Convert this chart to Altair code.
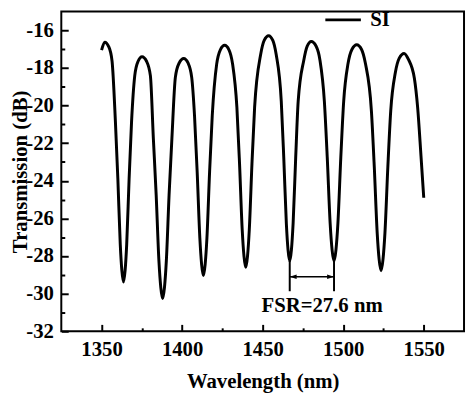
import altair as alt
import pandas as pd

# ---- data ----
wavelength = [
    1350.0, 1352.0, 1354.5, 1356.5, 1358.6, 1360.1, 1361.6, 1362.6, 1363.6, 1364.6, 1365.6, 1367.1, 1368.6, 1370.6, 1372.6, 1375.1,
    1378.0, 1380.3, 1382.15, 1383.9, 1385.6, 1386.75, 1387.9, 1389.05, 1390.2, 1391.9, 1393.65, 1395.8, 1398.1, 1401.0,
    1403.75, 1405.95, 1407.7, 1409.35, 1411.0, 1412.1, 1413.2, 1414.3, 1415.4, 1417.05, 1418.7, 1421.45, 1423.65, 1426.4,
    1429.15, 1431.35, 1434.0, 1435.65, 1437.3, 1438.4, 1439.5, 1440.6, 1441.7, 1443.35, 1445.0, 1448.75, 1450.95, 1453.7,
    1456.3, 1458.4, 1461.55, 1463.1, 1464.7, 1465.75, 1466.8, 1467.85, 1468.9, 1470.5, 1472.05, 1475.5, 1477.6, 1480.2,
    1483.2, 1485.6, 1488.3, 1490.1, 1491.9, 1493.1, 1494.3, 1495.5, 1496.7, 1498.5, 1500.3, 1503.0, 1505.4, 1508.4,
    1511.4, 1513.8, 1517.5, 1519.3, 1521.1, 1522.3, 1523.5, 1524.7, 1525.9, 1527.7, 1529.5, 1532.4, 1534.8, 1537.8,
    1540.5, 1544.2, 1546.2, 1548.3, 1550.0,
]
transmission = [
    -17.05, -16.63, -16.88, -17.63, -20.88, -23.88, -27.38, -28.78, -29.38, -28.78, -27.38, -23.88, -20.88, -18.41, -17.66, -17.41,
    -17.66, -18.41, -21.76, -24.76, -28.26, -29.66, -30.26, -29.66, -28.26, -24.76, -21.76, -18.5, -17.75, -17.5,
    -17.75, -18.5, -20.54, -23.54, -27.04, -28.44, -29.04, -28.44, -27.04, -23.54, -20.54, -17.8, -17.05, -16.8,
    -17.05, -17.8, -20.1, -23.1, -26.6, -28.0, -28.6, -28.0, -26.6, -23.1, -20.1, -17.29, -16.54, -16.29,
    -16.54, -17.29, -19.77, -22.77, -26.27, -27.67, -28.27, -27.67, -26.27, -22.77, -19.77, -17.6, -16.85, -16.6,
    -16.85, -17.6, -19.77, -22.77, -26.27, -27.67, -28.27, -27.67, -26.27, -22.77, -19.77, -17.77, -17.02, -16.77,
    -17.02, -17.77, -20.28, -23.28, -26.78, -28.18, -28.78, -28.18, -26.78, -23.28, -20.28, -18.23, -17.48, -17.23,
    -17.55, -18.56, -20.1, -22.7, -24.9,
]
series_name = "SI"

x_major = [1350, 1400, 1450, 1500, 1550]
x_minor = [1375, 1425, 1475, 1525]
y_major = [-32, -30, -28, -26, -24, -22, -20, -18, -16]
y_minor = [-31, -29, -27, -25, -23, -21, -19, -17]
x_domain = [1325, 1575]
y_domain = [-32, -15]

fsr_x = [1466.8, 1494.3]
fsr_top = [-28.27, -28.27]
fsr_bottom = [-29.87, -29.87]
fsr_arrow_y = -29.1
fsr_label = "FSR=27.6 nm"
fsr_label_x = 1486.9
fsr_label_y = -30.98

W, H = 408, 324
FONT = "Liberation Serif"
FS = 21

df = pd.DataFrame({"wl": wavelength, "t": transmission, "series": series_name})
fsr_df = pd.DataFrame({"x": fsr_x, "y": fsr_top, "y2": fsr_bottom})
arrow_df = pd.DataFrame({"x": [fsr_x[0]], "x2": [fsr_x[1]], "y": [fsr_arrow_y]})
left_head = pd.DataFrame({"x": [fsr_x[0]], "y": [fsr_arrow_y]})
right_head = pd.DataFrame({"x": [fsr_x[1]], "y": [fsr_arrow_y]})
label_df = pd.DataFrame({"x": [fsr_label_x], "y": [fsr_label_y], "text": [fsr_label]})

xs = alt.Scale(domain=x_domain, nice=False, zero=False)
ys = alt.Scale(domain=y_domain, nice=False, zero=False)

line = alt.Chart(df).mark_line(interpolate="monotone", strokeWidth=3).encode(
    x=alt.X("wl:Q", scale=xs, axis=alt.Axis(
        values=x_major, ticks=False, domain=False, grid=False,
        labelExpr="'' + datum.value", labelPadding=8,
        title="Wavelength (nm)", titleY=57, titleBaseline="alphabetic")),
    y=alt.Y("t:Q", scale=ys, axis=alt.Axis(
        values=y_major, ticks=False, domain=False, grid=False,
        labelExpr="'' + datum.value", labelPadding=8,
        title="Transmission (dB)", titleX=-35, titleBaseline="alphabetic")),
    color=alt.Color("series:N", scale=alt.Scale(range=["black"]), legend=alt.Legend(
        title=None, orient="none", legendX=266, legendY=-11, padding=0,
        symbolType="stroke", symbolSize=1296, symbolStrokeWidth=3,
        labelFont=FONT, labelFontSize=FS, labelFontWeight="bold", labelColor="black",
        labelOffset=8)),
)

def tick_layer(xv, yv, size):
    return alt.Chart(df).mark_point(opacity=0).encode(
        x=alt.X("wl:Q", scale=xs, axis=alt.Axis(
            orient="top", offset=-H, values=xv, labels=False, domain=False, grid=False,
            ticks=True, tickSize=size, tickWidth=2, tickColor="black", title=None)),
        y=alt.Y("t:Q", scale=ys, axis=alt.Axis(
            orient="right", offset=-W, values=yv, labels=False, domain=False, grid=False,
            ticks=True, tickSize=size, tickWidth=2, tickColor="black", title=None)),
    )

major_ticks = tick_layer(x_major, y_major, 7)
minor_ticks = tick_layer(x_minor, y_minor, 3.5)

fsr_lines = alt.Chart(fsr_df).mark_rule(color="black", strokeWidth=2).encode(
    x=alt.X("x:Q", scale=xs, axis=None),
    y=alt.Y("y:Q", scale=ys, axis=None),
    y2="y2:Q",
)
arrow = alt.Chart(arrow_df).mark_rule(color="black", strokeWidth=1.5).encode(
    x=alt.X("x:Q", scale=xs, axis=None),
    x2="x2:Q",
    y=alt.Y("y:Q", scale=ys, axis=None),
)
lh = alt.Chart(left_head).mark_point(shape="M0,0L1,-0.32L1,0.32Z", filled=True, size=196,
                                     color="black", opacity=1).encode(
    x=alt.X("x:Q", scale=xs, axis=None), y=alt.Y("y:Q", scale=ys, axis=None))
rh = alt.Chart(right_head).mark_point(shape="M0,0L-1,-0.32L-1,0.32Z", filled=True, size=196,
                                      color="black", opacity=1).encode(
    x=alt.X("x:Q", scale=xs, axis=None), y=alt.Y("y:Q", scale=ys, axis=None))
label = alt.Chart(label_df).mark_text(font=FONT, fontSize=FS, fontWeight="bold", color="black",
                                      align="center", baseline="alphabetic").encode(
    x=alt.X("x:Q", scale=xs, axis=None), y=alt.Y("y:Q", scale=ys, axis=None), text="text:N")

chart = alt.layer(line, major_ticks, minor_ticks, fsr_lines, arrow, lh, rh, label).resolve_axis(
    x="independent", y="independent"
).properties(
    width=W, height=H,
    padding={"left": 54, "top": 1, "right": 2, "bottom": 62},
    autosize=alt.AutoSizeParams(type="none"),
    background="white",
).configure_view(
    stroke="black", strokeWidth=2
).configure_axis(
    labelFont=FONT, labelFontSize=FS, labelFontWeight="bold", labelColor="black",
    titleFont=FONT, titleFontSize=FS, titleFontWeight="bold", titleColor="black",
)

chart.save("out.html", embed_options={"renderer": "svg", "actions": False})
